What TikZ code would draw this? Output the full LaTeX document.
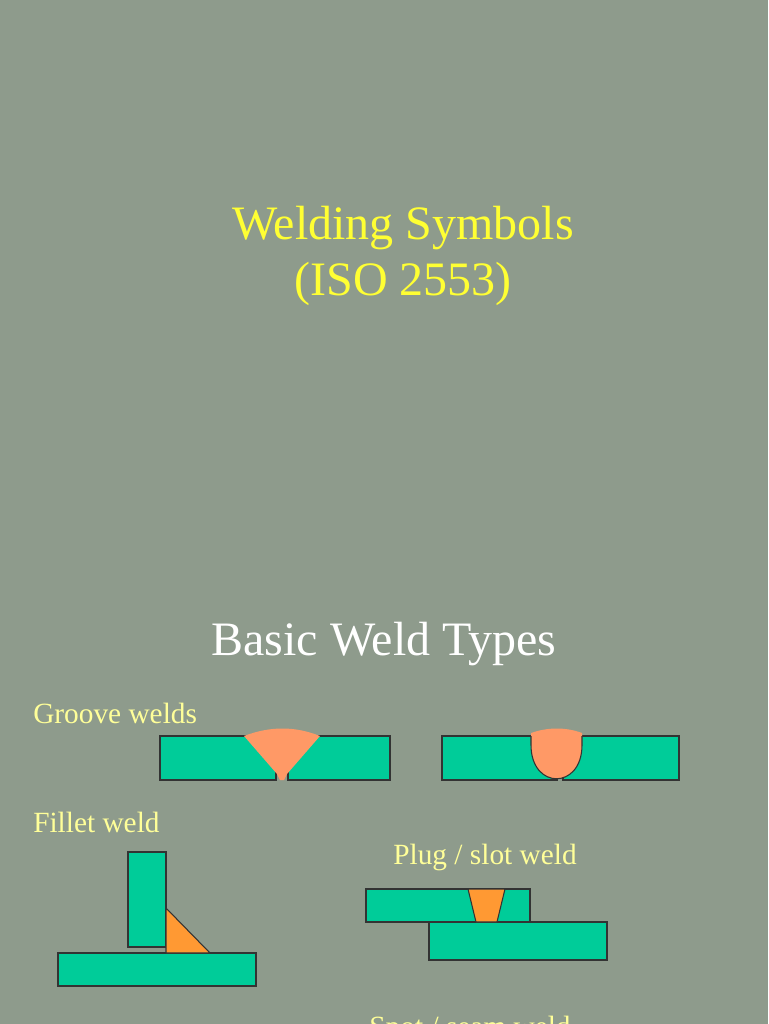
\documentclass[tikz,border=0pt]{standalone}
\usepackage{fontspec}
\setmainfont{Liberation Serif}
\definecolor{bg}{HTML}{8E9B8C}
\definecolor{plate}{HTML}{00CC99}
\definecolor{wA}{HTML}{FF9966}
\definecolor{wB}{HTML}{FF9933}
\definecolor{ttl}{HTML}{FFFF33}
\definecolor{lbl}{HTML}{FFFF99}
\begin{document}
\begin{tikzpicture}[x=0.75pt,y=-0.75pt,
  pl/.style={draw=black!80,fill=plate,line width=0.8pt},
  lab/.style={text=lbl,font=\fontsize{22}{26}\selectfont,anchor=base west,inner sep=0}]
\useasboundingbox (0,0) rectangle (768,1024);
\clip (0,0) rectangle (768,1024);
\fill[bg] (0,0) rectangle (768,1024);
\node[text=ttl,align=center,font=\fontsize{36}{42}\selectfont] (title) at (403,256) {Welding Symbols\\(ISO 2553)};
\node[text=white,font=\fontsize{36}{42}\selectfont,anchor=base] (basic) at (384,655) {Basic Weld Types};
\node[lab] (groove) at (33,723) {Groove welds};
\node[lab] (fillet) at (33,832) {Fillet weld};
\node[lab,anchor=base] (plug) at (485,864) {Plug / slot weld};
\node[lab,anchor=base] (spot) at (470,1036) {Spot / seam weld};
% groove 1
\draw[pl] (160,736) rectangle (276,780);
\draw[pl] (288,736) rectangle (390,780);
\fill[wA] (244,736) .. controls (270,726) and (295,726) .. (320,736) -- (287,774) -- (284,780) -- (280,780) -- (277,774) -- cycle;
% groove 2
\draw[pl] (442,736) rectangle (557,780);
\draw[pl] (563,736) rectangle (679,780);
\fill[wA] (531,733) .. controls (548,727) and (566,727) .. (582,733) -- (582,745) .. controls (582,790) and (531,790) .. (531,745) -- cycle;
\draw[black!80,line width=0.8pt] (582,736) -- (582,745) .. controls (582,790) and (531,790) .. (531,745) -- (531,736);
% fillet
\draw[pl] (128,852) rectangle (166,947);
\draw[pl] (58,953) rectangle (256,986);
\draw[fill=wB,draw=black!80,line width=0.8pt] (166,908) -- (210,953) -- (166,953) -- cycle;
% plug
\draw[pl] (429,922) rectangle (607,960);
\draw[pl] (366,889) rectangle (530,922);
\draw[fill=wB,draw=black!80,line width=0.8pt] (468,889) -- (505,889) -- (497,922) -- (476,922) -- cycle;
\end{tikzpicture}
\end{document}
